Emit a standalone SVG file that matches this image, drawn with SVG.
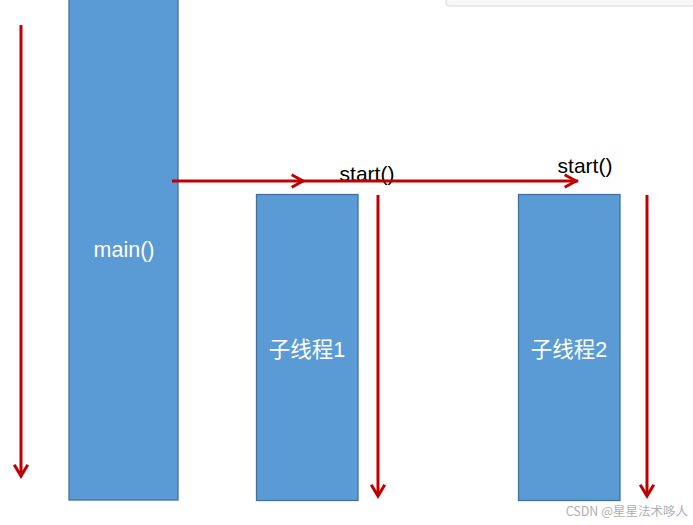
<svg xmlns="http://www.w3.org/2000/svg" width="693" height="525" viewBox="0 0 693 525">
<style>
.box{fill:#5B9BD5;stroke:#41719C;stroke-width:1.3}
.lbl{font-family:"Liberation Sans",Arial,"Noto Sans CJK SC",sans-serif;font-size:21.5px;fill:#fff;text-anchor:middle}
.st{font-family:"Liberation Sans",Arial,sans-serif;font-size:21px;fill:#000;text-anchor:middle}
.ln{stroke:#C00000;stroke-width:3;fill:none}
.hd{stroke:#C00000;stroke-width:3;fill:none;stroke-linecap:square}
</style>
<rect width="693" height="525" fill="#fff"/>
<rect x="446" y="-10" width="252" height="16" rx="3" fill="#f7f7f7" stroke="#d5d8db" stroke-width="1"/>
<g id="main">
<rect class="box" x="69" y="-2" width="109" height="502"/>
<text class="lbl" x="124" y="257">main()</text>
</g>
<g id="thread1">
<rect class="box" x="256.5" y="194.5" width="101.5" height="306"/>
<text class="lbl" x="307" y="357">子线程1</text>
</g>
<g id="thread2">
<rect class="box" x="518.5" y="194.5" width="101.5" height="306"/>
<text class="lbl" x="569" y="357">子线程2</text>
</g>
<g id="labels">
<text class="st" x="367" y="181">start()</text>
<text class="st" x="585" y="173">start()</text>
</g>
<g id="connectors">
<line class="ln" x1="21" y1="25" x2="21" y2="476"/>
<polyline class="hd" points="15,466 21,476 27,466"/>
<line class="ln" x1="172" y1="181" x2="578" y2="181"/>
<polyline class="hd" points="293,175.5 303,181 293,186.5"/>
<polyline class="hd" points="566,175.5 576,181 566,186.5"/>
<line class="ln" x1="378" y1="195" x2="378" y2="496"/>
<polyline class="hd" points="372,486 378,496 384,486"/>
<line class="ln" x1="647" y1="195" x2="647" y2="496"/>
<polyline class="hd" points="641,486 647,496 653,486"/>
</g>
<text x="688" y="516" font-family="'Noto Sans CJK SC','Liberation Sans',sans-serif" font-size="12.5" fill="#b0b0b0" text-anchor="end">CSDN @星星法术哆人</text>
</svg>
